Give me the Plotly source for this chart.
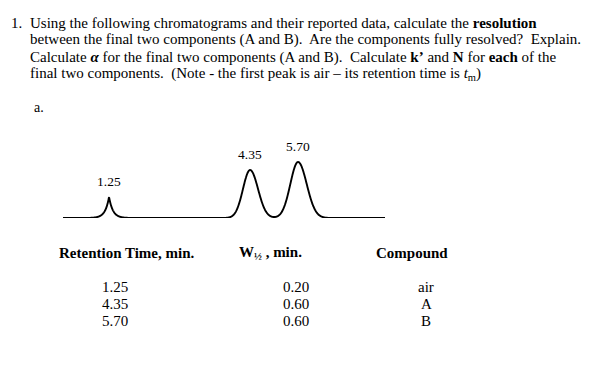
import numpy as np
import plotly.graph_objects as go

# ---- data ----
retention_times = [1.25, 4.35, 5.70]
half_widths = [0.20, 0.60, 0.60]
compounds = ["air", "A", "B"]
peak_labels = ["1.25", "4.35", "5.70"]
# sketch (not-to-scale) peak positions, heights and widths
sketch_pos = [1.43, 5.81, 7.30]
sketch_height = [21, 48, 56]
sketch_width = [0.12, 0.22, 0.24]
sketch_shape = ["cusp", "gauss", "gauss"]

OFF = 8  # default page body margin
W, H = 610 - OFF, 390 - OFF
FONT = "Liberation Serif, Times New Roman, serif"


def px(x, y):
    return (x - OFF) / W, 1 - (y - OFF) / H


# chromatogram curve built from the peak parameters
xs = np.linspace(0, 10, 1200)
ys = np.zeros_like(xs)
for p, h, w, s in zip(sketch_pos, sketch_height, sketch_width, sketch_shape):
    if s == "cusp":
        ys += h * np.exp(-np.abs(xs - p) / w)
    else:
        right = np.where(xs > p, 1.12, 1.0)
        ys += h * np.exp(-0.5 * ((xs - p) / (w * right)) ** 2)

fig = go.Figure()
fig.add_trace(go.Scatter(x=xs, y=ys, mode="lines",
                         line=dict(color="black", width=1.9, shape="spline"),
                         hoverinfo="skip", showlegend=False))

annotations = []


def txt(x, y, s, size=15, anchor="left"):
    ax, ay = px(x, y)
    annotations.append(dict(x=ax, y=ay, xref="paper", yref="paper", text=s,
                            showarrow=False, xanchor=anchor, yanchor="middle",
                            font=dict(family=FONT, size=size, color="black")))


# question text
txt(9, 23, "1.")
txt(28, 23, "Using the following chromatograms and their reported data, calculate the <b>resolution</b>")
txt(28, 40, "between the final two components (A and B).  Are the components fully resolved?  Explain.")
txt(28, 57, "Calculate <b><i>α</i></b> for the final two components (A and B).  Calculate <b>k’</b> and <b>N</b> for <b>each</b> of the")
txt(28, 74, "final two components.  (Note - the first peak is air – its retention time is <i>t</i><sub>m</sub>)")
txt(32, 108, "a.", size=14)

# peak labels through the axes
for p, h, lab in zip(sketch_pos, sketch_height, peak_labels):
    annotations.append(dict(x=p, y=h, xref="x", yref="y", text=lab, showarrow=False,
                            xanchor="center", yanchor="bottom", yshift=6,
                            font=dict(family=FONT, size=13.5, color="black")))

# table
txt(57, 253, "<b>Retention Time, min.</b>")
txt(237, 253, "<b>W<sub>½</sub> , min.</b>")
txt(374, 253, "<b>Compound</b>")
row_y = [287, 304, 321]
for ry, rt, wh, c in zip(row_y, retention_times, half_widths, compounds):
    txt(115, ry, f"{rt:.2f}", anchor="center")
    txt(296, ry, f"{wh:.2f}", anchor="center")
    txt(426, ry, c, anchor="center")

x0, _ = px(63, 0)
x1, _ = px(385, 0)
_, yb = px(0, 218)
_, yt = px(0, 138)

fig.update_layout(
    width=W, height=H,
    margin=dict(l=0, r=0, t=0, b=0),
    paper_bgcolor="white", plot_bgcolor="white",
    xaxis=dict(domain=[x0, x1], range=[0, 10], visible=False, fixedrange=True),
    yaxis=dict(domain=[yb, yt], range=[0, 80], visible=False, fixedrange=True),
    annotations=annotations,
    showlegend=False,
)
fig.write_html("out.html")
